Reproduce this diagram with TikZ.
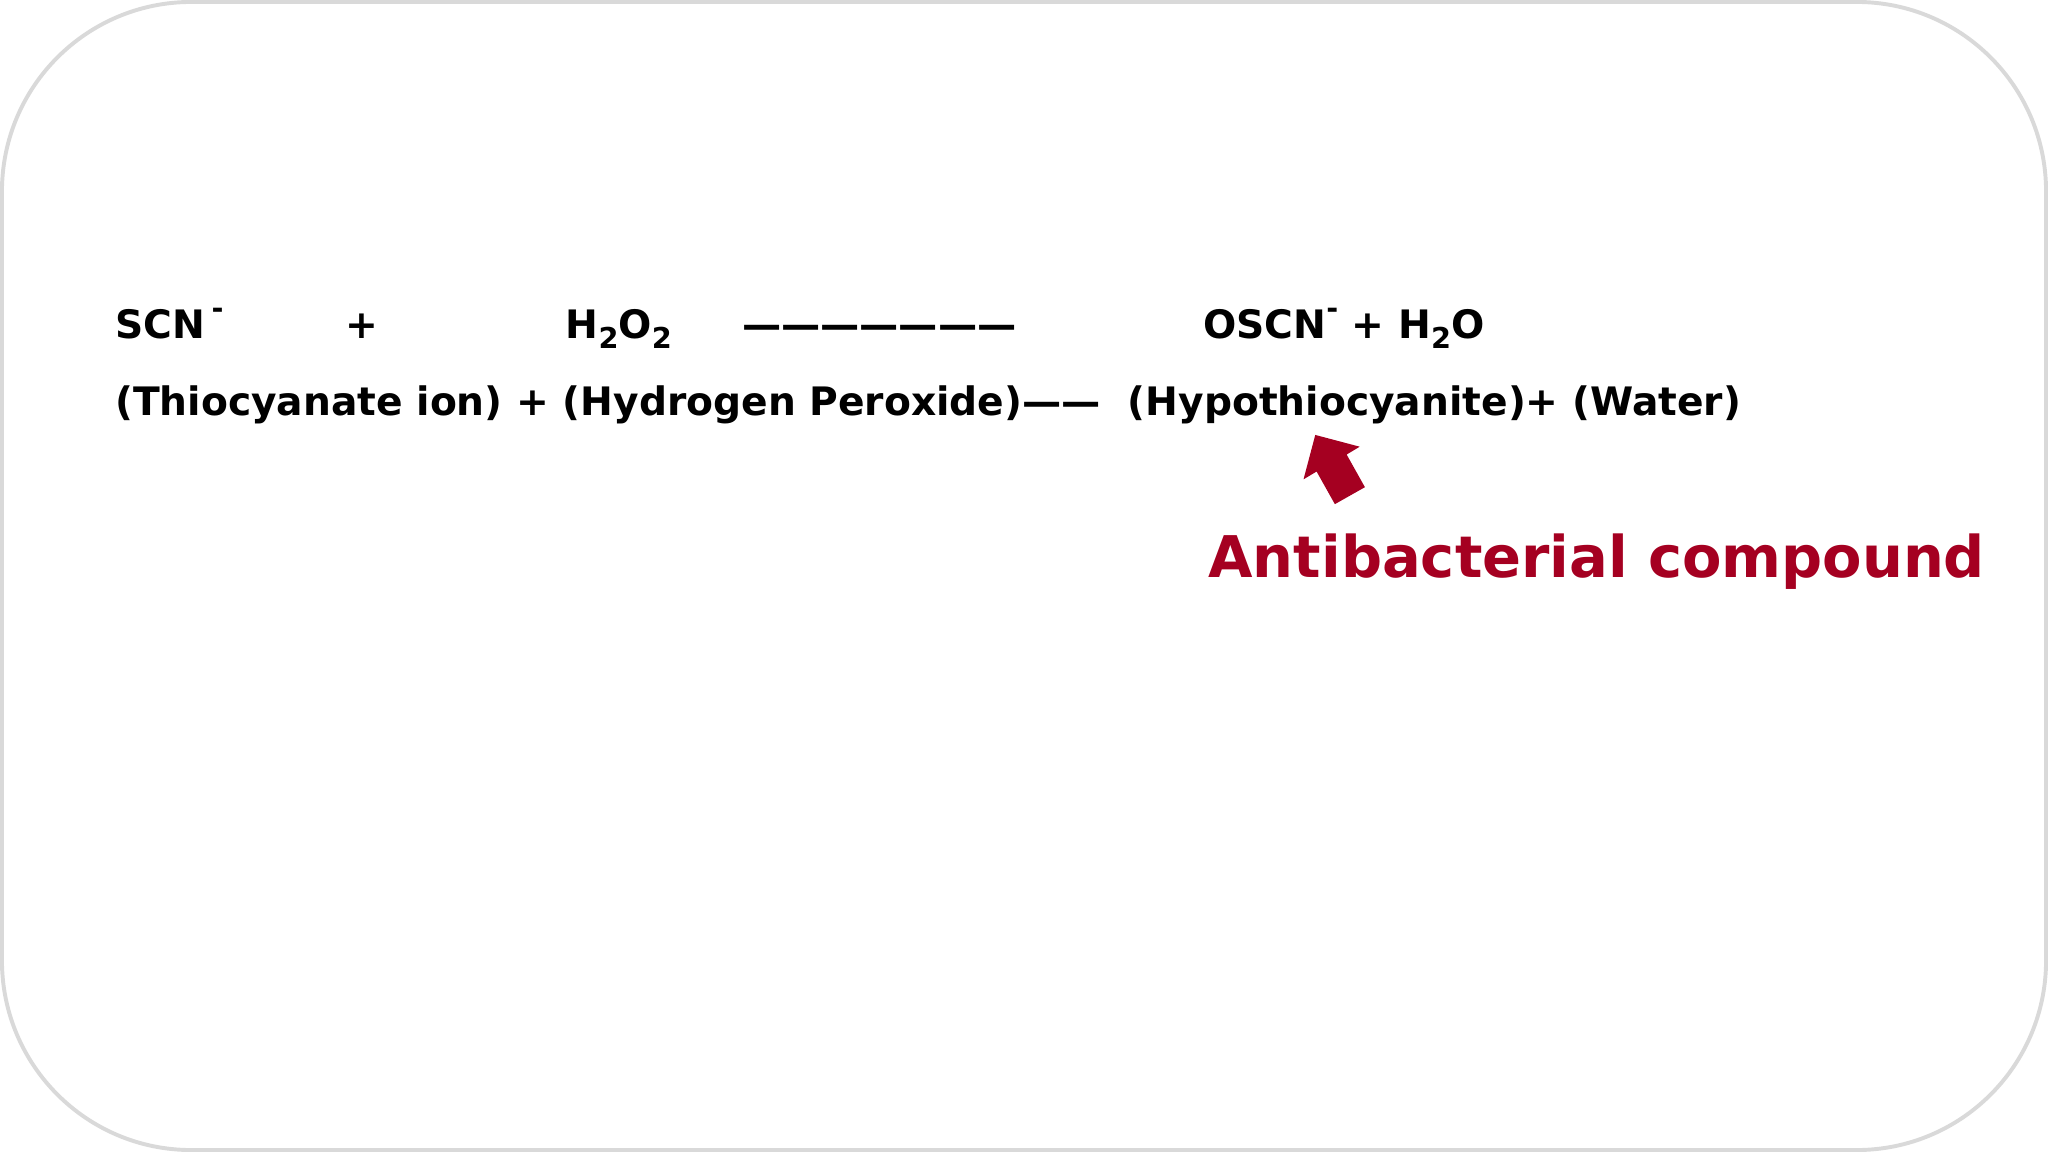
\documentclass[tikz,border=0pt]{standalone}
\usepackage{fontspec}
\setmainfont{DejaVu Sans}
\definecolor{dred}{HTML}{A50021}
\newcommand{\sbs}[1]{\raisebox{-0.25em}{\fontsize{22}{22}\selectfont #1}}
\newcommand{\sps}[1]{\raisebox{0.5em}{\fontsize{22}{22}\selectfont #1}}
\begin{document}
\begin{tikzpicture}[x=1pt,y=-1pt,
  txt/.style={anchor=base west,inner sep=0pt,font=\fontsize{30}{36}\selectfont\bfseries}]
\useasboundingbox (0,0) rectangle (1568,882);
\draw[line width=3pt,draw=black!15,rounded corners=145pt] (1.5,1.5) rectangle (1566.5,880.5);
\node[txt] (scn) at (88,259) {SCN\,\sps{-}};
\node[txt] (plus) at (264,259) {+};
\node[txt] (hoo) at (433,259) {H\sbs{2}O\sbs{2}};
\node[txt] (dash) at (568,259) {---------------------};
\node[txt] (prod) at (921,259) {OSCN\sps{-} + H\sbs{2}O};
\node[txt] (names) at (88,318) {(Thiocyanate ion) + (Hydrogen Peroxide)------\ \ (Hypothiocyanite)+ (Water)};
\node[txt,text=dred,font=\fontsize{44}{50}\selectfont\bfseries] (anti) at (925,442) {Antibacterial compound};
\fill[dred] (1007,333) -- (1041,342) -- (1031,348) -- (1045,373) -- (1022,386) -- (1008,361) -- (998,367) -- cycle;
\end{tikzpicture}
\end{document}
